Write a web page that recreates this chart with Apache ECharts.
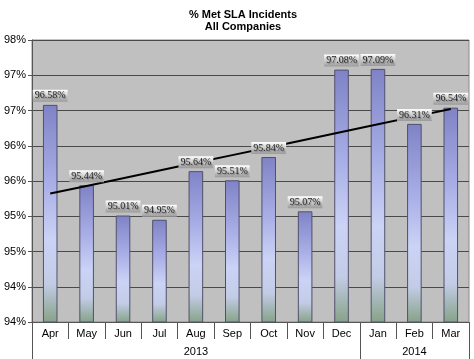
<!DOCTYPE html>
<html><head><meta charset="utf-8">
<script src="https://cdn.jsdelivr.net/npm/echarts@6/dist/echarts.min.js"></script>
<style>html,body{margin:0;padding:0;background:#fff}#c{width:474px;height:359px}</style>
</head><body><div id="c"></div>
<script>
const months = ['Apr','May','Jun','Jul','Aug','Sep','Oct','Nov','Dec','Jan','Feb','Mar'];
const values = [96.58,95.44,95.01,94.95,95.64,95.51,95.84,95.07,97.08,97.09,96.31,96.54];
const yearLabels = ['','','','','2013','','','','','','2014',''];
const yearStarts = [0, 9];
const yMin = 93.5, yMax = 97.5, yStep = 0.5;

// linear trendline (least squares) computed from the data
const n = values.length;
const mx = (n - 1) / 2;
const my = values.reduce((a, b) => a + b, 0) / n;
let sxy = 0, sxx = 0;
values.forEach((v, i) => { sxy += (i - mx) * (v - my); sxx += (i - mx) * (i - mx); });
const slope = sxy / sxx;
const trend = values.map((v, i) => my + slope * (i - mx));

const font = 'Liberation Sans, Arial';
const chart = echarts.init(document.getElementById('c'));
chart.setOption({
  animation: false,
  title: {
    text: '% Met SLA Incidents\nAll Companies',
    left: 238, textAlign: 'center', top: 4,
    textStyle: { fontFamily: font, fontSize: 11, fontWeight: 'bold', color: '#000', lineHeight: 12 }
  },
  grid: { left: 32, right: 5, top: 40, bottom: 37, show: true, backgroundColor: '#c0c0c0', borderColor: '#8a8a8a', borderWidth: 1 },
  xAxis: [{
    type: 'category', data: months, position: 'bottom',
    axisLine: { lineStyle: { color: '#555', width: 1 } },
    axisTick: { show: true, length: 17, lineStyle: { color: '#555' } },
    axisLabel: { margin: 6, color: '#000', fontSize: 11, fontFamily: font }
  }, {
    type: 'category', data: months, position: 'bottom', offset: 0,
    axisLine: { show: false },
    axisTick: { show: true, length: 37, interval: (i) => yearStarts.indexOf(i) >= 0, lineStyle: { color: '#555' } },
    axisLabel: { margin: 24, interval: 0, color: '#000', fontSize: 11, fontFamily: font,
      formatter: (v, i) => yearLabels[i] }
  }],
  yAxis: {
    type: 'value', min: yMin, max: yMax, interval: yStep,
    axisLine: { show: true, lineStyle: { color: '#555' } },
    axisTick: { show: true, length: 4, lineStyle: { color: '#555' } },
    splitLine: { lineStyle: { color: '#4a4a4a', width: 1 } },
    axisLabel: { margin: 6, color: '#000', fontSize: 11, fontFamily: font,
      formatter: v => Math.round(v) + '%' }
  },
  series: [{
    type: 'bar', data: values, barWidth: '40%', xAxisIndex: 0, z: 2,
    itemStyle: {
      borderColor: '#50506a', borderWidth: 1,
      color: { type: 'linear', x: 0, y: 0, x2: 0, y2: 1, colorStops: [
        { offset: 0, color: '#7f83c6' },
        { offset: 0.35, color: '#a7ade5' },
        { offset: 0.62, color: '#cbd3f6' },
        { offset: 0.82, color: '#c3cce6' },
        { offset: 1, color: '#86a287' }
      ] }
    }
  }, {
    type: 'line', data: trend, xAxisIndex: 0, z: 3, symbol: 'none', silent: true,
    lineStyle: { color: '#000', width: 2 }
  }, {
    type: 'bar', data: values, barWidth: '40%', barGap: '-100%', xAxisIndex: 0, z: 5, silent: true,
    itemStyle: { color: 'rgba(0,0,0,0)', borderWidth: 0 },
    label: {
      show: true, position: 'top', distance: 3,
      formatter: p => p.value.toFixed(2) + '%',
      fontFamily: 'Liberation Serif, Times New Roman', fontSize: 10, color: '#222',
      textShadowColor: 'rgba(0,0,0,0.35)', textShadowBlur: 1, textShadowOffsetX: 1, textShadowOffsetY: 1,
      padding: [1, 2, 1, 2],
      backgroundColor: { type: 'linear', x: 0, y: 0, x2: 0, y2: 1, colorStops: [
        { offset: 0, color: '#ffffff' }, { offset: 1, color: '#9a9a9a' }
      ] }
    }
  }]
});
</script></body></html>
